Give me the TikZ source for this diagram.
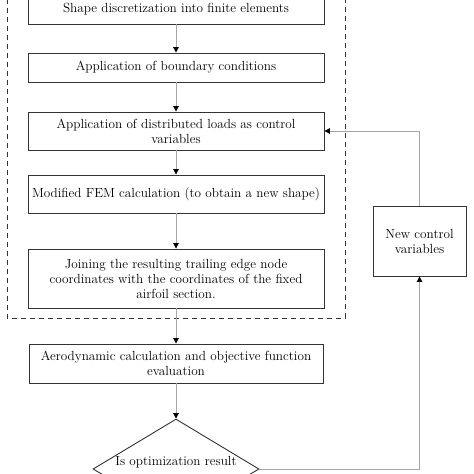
\documentclass[tikz,border=0pt]{standalone}
\usetikzlibrary{arrows.meta,shapes.geometric}
\begin{document}
\begin{tikzpicture}[x=1pt,y=-1pt,
  every node/.style={font=\fontsize{13.2}{15}\selectfont, align=center},
  box/.style={draw=black!80, line width=0.9pt, rectangle, minimum width=296pt, inner sep=1pt},
  conn/.style={draw=black!35, line width=1pt, -{Triangle[length=5.5pt,width=5.5pt,black]}},
  grp/.style={draw=black!80, line width=0.9pt, dash pattern=on 5pt off 4pt}]
\useasboundingbox (0,0) rectangle (474,474);
\clip (0,0) rectangle (474,474);
\draw[grp] (7,-10) rectangle (345,318);
\node[box, minimum height=30pt] (b1) at (176,9) {Shape discretization into finite elements};
\node[box, minimum height=29pt] (b2) at (176,67.5) {Application of boundary conditions};
\node[box, minimum height=38pt] (b3) at (176,131) {Application of distributed loads as control\\variables};
\node[box, minimum height=38pt] (b4) at (176,194) {Modified FEM calculation (to obtain a new shape)};
\node[box, minimum height=59pt] (b5) at (176,278.5) {Joining the resulting trailing edge node\\coordinates with the coordinates of the fixed\\airfoil section.};
\node[box, minimum width=294pt, minimum height=39pt] (b6) at (176,363.5) {Aerodynamic calculation and objective function\\evaluation};
\node[draw=black!80, line width=0.9pt, diamond, minimum width=166pt, minimum height=100pt, inner sep=0pt] (dia) at (176,469) {};
\node (dtxt) at (176,462) {Is optimization result};
\node[box, minimum width=93pt, minimum height=70pt] (nc) at (419.5,241) {New control\\variables};
\draw[conn] (b1) -- (b2);
\draw[conn] (b2) -- (b3);
\draw[conn] (b3) -- (b4);
\draw[conn] (b4) -- (b5);
\draw[conn] (b5) -- (b6);
\draw[conn] (b6) -- (dia.north);
\draw[conn] (dia.east) -- (dia.east -| nc.south) -- (nc.south);
\draw[conn] (nc.north) |- (b3.east);
\end{tikzpicture}
\end{document}
